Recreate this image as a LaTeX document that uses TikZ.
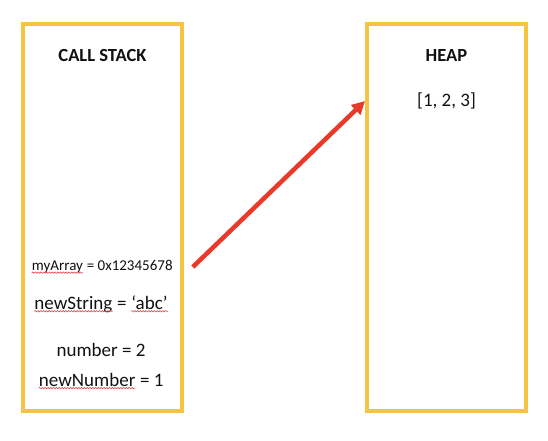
\documentclass[tikz,border=0pt]{standalone}
\usepackage{fontspec}
\setmainfont{Carlito}
\usepackage{tikz}
\usetikzlibrary{positioning,arrows.meta,decorations.pathmorphing}
\definecolor{frame}{HTML}{F6C343}
\definecolor{pointer}{HTML}{E8392A}
\definecolor{ink}{HTML}{111111}
\definecolor{spell}{HTML}{E0474C}
\tikzset{
  mem/.style   = {draw=frame, line width=4pt, minimum width=159pt,
                  minimum height=387pt, inner sep=0pt},
  head/.style  = {font=\fontsize{18.5}{21}\selectfont\bfseries, text=ink, inner sep=1pt},
  var/.style   = {font=\fontsize{19}{22}\selectfont, text=ink, inner sep=1pt},
  small/.style = {font=\fontsize{15}{17}\selectfont, text=ink, inner sep=1pt},
  ref/.style   = {-{Triangle[length=13pt,width=13pt]}, draw=pointer, line width=4.5pt},
  squig/.style = {draw=spell, line width=0.6pt,
                  decorate, decoration={snake, amplitude=0.7pt, segment length=2.8pt}},
}
\newcommand{\typo}[1]{\tikz[baseline=(w.base)]{\node[inner sep=0pt] (w) {#1};
  \draw[squig] ([yshift=-2pt]w.base west) -- ([yshift=-2pt]w.base east);}}

\begin{document}
\begin{tikzpicture}[x=1pt,y=-1pt]
\useasboundingbox (0,0) rectangle (548,440);

% ------------------------------------------------------------------ frames
\node[mem] (stack) at (102.5,217.5) {};
\node[mem] (heap)  at (446.5,217.5) {};

\node[head] (stacktitle) at (102.5,55) {CALL STACK};
\node[head] (heaptitle)  at (446.5,55) {HEAP};

% ------------------------------------------------------------------ contents
\node[var]   (arr)    at (446.5,101) {[1, 2, 3]};
\node[small] (myarr)  at (102,267)   {\typo{myArray} = 0x12345678};
\node[var]   (newstr) at (101,304)   {\typo{newString} = \typo{‘abc’}};
\node[var]   (num)    at (101,350)   {number = 2};
\node[var]   (newnum) at (101,381)   {\typo{newNumber} = 1};

% ------------------------------------------------------------------ pointer
\coordinate[right=19pt of myarr.east] (ptr);
\draw[ref] (ptr) -- (heap.west |- arr);

\end{tikzpicture}
\end{document}
